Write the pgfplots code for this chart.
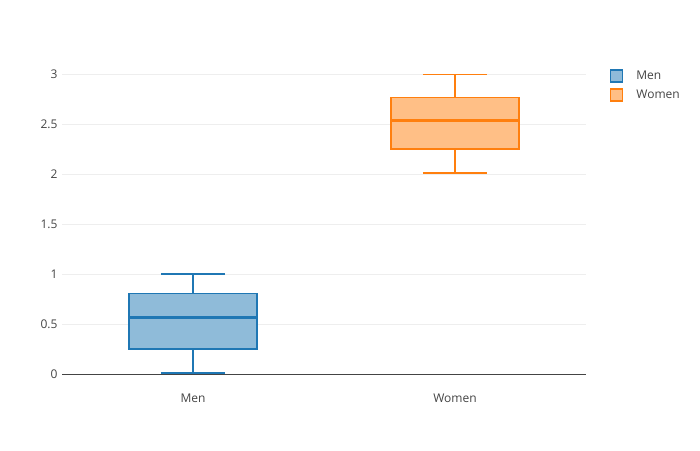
\documentclass[border=0pt]{standalone}
\usepackage{pgfplots}
\pgfplotsset{compat=1.18}
\usepgfplotslibrary{statistics}
\usepackage{fontspec}
\setmainfont{Open Sans}
\definecolor{menline}{HTML}{1F77B4}
\definecolor{menfill}{HTML}{8FBBD9}
\definecolor{wline}{HTML}{FF7F0E}
\definecolor{wfill}{HTML}{FFBF86}
\definecolor{txt}{HTML}{444444}
\definecolor{gridc}{HTML}{EEEEEE}
\begin{document}
\begin{tikzpicture}
\begin{axis}[
  at={(0,0)}, anchor=south west,
  scale only axis, width=524pt, height=313pt,
  xmin=-0.5, xmax=1.5, ymin=0, ymax=3.13,
  xtick={0,1}, xticklabels={Men,Women},
  ytick={0,0.5,1,1.5,2,2.5,3},
  /pgf/number format/assume math mode=true,
  axis lines*=left,
  x axis line style={draw=txt, line width=1pt},
  y axis line style={draw=none},
  major tick length=0pt,
  ymajorgrids, major grid style={draw=gridc, line width=0.8pt},
  tick label style={font=\fontsize{12}{14}\selectfont, text=txt},
  yticklabel style={xshift=-1pt},
  xticklabel style={yshift=-16pt},
  boxplot/draw direction=y,
  legend style={at={(1.045,0.975)}, anchor=north west, draw=none, fill=none,
    font=\fontsize{12}{14}\selectfont, text=txt, row sep=5pt, inner sep=0pt},
  legend cell align=left,
]
% box fills
\addplot[draw=none, fill=menfill, forget plot] coordinates {(-0.245,0.248) (0.245,0.248) (0.245,0.807) (-0.245,0.807)} -- cycle;
\addplot[draw=none, fill=wfill, forget plot] coordinates {(0.755,2.248) (1.245,2.248) (1.245,2.764) (0.755,2.764)} -- cycle;
% outlines and whiskers
\addplot[draw=menline, line width=1.6pt, fill=none, forget plot,
  boxplot prepared={median=0.566, upper quartile=0.807, lower quartile=0.248,
    upper whisker=0.998, lower whisker=0.01, draw position=0,
    box extend=0.49, whisker extend=0.245}] coordinates {};
\addplot[draw=wline, line width=1.6pt, fill=none, forget plot,
  boxplot prepared={median=2.533, upper quartile=2.764, lower quartile=2.248,
    upper whisker=2.995, lower whisker=2.01, draw position=1,
    box extend=0.49, whisker extend=0.245}] coordinates {};
% medians
\addplot[draw=menline, line width=2.4pt, forget plot] coordinates {(-0.245,0.566) (0.245,0.566)};
\addplot[draw=wline, line width=2.4pt, forget plot] coordinates {(0.755,2.533) (1.245,2.533)};
\addlegendimage{legend image code/.code={\draw[draw=menline, line width=1.6pt, fill=menfill] (0pt,-6pt) rectangle (12pt,6pt);}}
\addlegendentry{\hspace{11pt}Men}
\addlegendimage{legend image code/.code={\draw[draw=wline, line width=1.6pt, fill=wfill] (0pt,-6pt) rectangle (12pt,6pt);}}
\addlegendentry{\hspace{11pt}Women}
\end{axis}
\path[use as bounding box] (-62pt,-76pt) rectangle (638pt,374pt);
\end{tikzpicture}
\end{document}
